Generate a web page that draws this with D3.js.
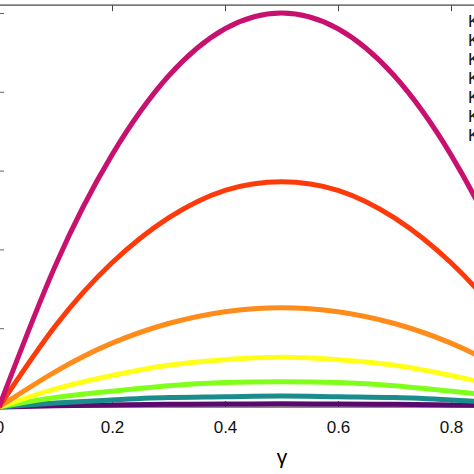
<!DOCTYPE html>
<html lang="en">
<head>
  <meta charset="UTF-8" />
  <script src="https://d3js.org/d3.v7.min.js"></script>
  <style>
    body { margin: 0; background: #fff; }
    text { font-family: "Liberation Sans", Arial, sans-serif; }
  </style>
</head>
<body>
  <svg width="474" height="474"></svg>
  <script>
    // gamma sampling points and the curve values
    const gamma = [0, 0.1, 0.2, 0.3, 0.4, 0.5, 0.6, 0.7, 0.8, 0.9, 1.0];
    const seriesNames = ["K=1", "K=2", "K=3", "K=4", "K=5", "K=6", "K=7"];
    const colors = ["#c8106e", "#ff3a0a", "#ff8c1a", "#ffff1a", "#7fff1a", "#1a8c8c", "#5a0a6e"];
    const s1 = [0, 1.80, 3.20, 4.20, 4.80, 5.00, 4.80, 4.20, 3.20, 1.80, 0];
    const s2 = [0, 1.03, 1.83, 2.40, 2.75, 2.86, 2.75, 2.40, 1.83, 1.03, 0];
    const s3 = [0, 0.45, 0.81, 1.06, 1.21, 1.26, 1.21, 1.06, 0.81, 0.45, 0];
    const s4 = [0, 0.23, 0.40, 0.53, 0.60, 0.63, 0.60, 0.53, 0.40, 0.23, 0];
    const s5 = [0, 0.12, 0.20, 0.27, 0.31, 0.32, 0.31, 0.27, 0.20, 0.12, 0];
    const s6 = [0, 0.05, 0.09, 0.12, 0.13, 0.14, 0.13, 0.12, 0.09, 0.05, 0];
    const s7 = [0, 0.015, 0.026, 0.034, 0.038, 0.04, 0.038, 0.034, 0.026, 0.015, 0];
    const series = [s1, s2, s3, s4, s5, s6, s7];
    const xTicks = [0, 0.2, 0.4, 0.6, 0.8, 1.0];
    const yTicks = [0, 1, 2, 3, 4, 5];

    const svg = d3.select("svg");
    const x = d3.scaleLinear().domain([0, 1]).range([-1, 564]);
    const y = d3.scaleLinear().domain([0, 5]).range([407, 13]);

    // frame
    svg.append("rect")
      .attr("x", x(0)).attr("y", y(5.1))
      .attr("width", x(1) - x(0)).attr("height", y(0) - y(5.1))
      .attr("fill", "none").attr("stroke", "#666").attr("stroke-width", 1.5);

    // bottom axis, ticks inward
    const xa = svg.append("g").attr("transform", `translate(0,${y(0)})`)
      .call(d3.axisBottom(x).tickValues(xTicks).tickSizeInner(-6).tickSizeOuter(0)
        .tickPadding(14).tickFormat(d => d === 0 ? "0" : d3.format(".1f")(d)));
    xa.select(".domain").remove();
    xa.selectAll("line").attr("stroke", "#444");
    xa.selectAll("text").attr("font-size", 17).attr("fill", "#111")
      .attr("font-family", "Liberation Sans, Arial, sans-serif");

    // top ticks
    svg.append("g").attr("transform", `translate(0,${y(5.1)})`)
      .call(d3.axisTop(x).tickValues(xTicks).tickSizeInner(-6).tickSizeOuter(0).tickFormat(""))
      .call(g => g.select(".domain").remove())
      .selectAll("line").attr("stroke", "#444");

    // left ticks
    svg.append("g").attr("transform", `translate(${x(0)},0)`)
      .call(d3.axisLeft(y).tickValues(yTicks).tickSizeInner(-5).tickSizeOuter(0).tickFormat(""))
      .call(g => g.select(".domain").remove())
      .selectAll("line").attr("stroke", "#666");

    svg.append("text").attr("x", 282).attr("y", 464).attr("text-anchor", "middle")
      .attr("font-size", 21).attr("font-family", "DejaVu Sans, sans-serif").text("γ");

    const line = d3.line().x((d, i) => x(gamma[i])).y(d => y(d)).curve(d3.curveNatural);
    svg.selectAll("path.curve").data(series.slice().reverse()).enter().append("path")
      .attr("class", "curve")
      .attr("d", d => line(d))
      .attr("fill", "none")
      .attr("stroke", (d, i) => colors[colors.length - 1 - i])
      .attr("stroke-width", 5);

    // legend (mostly beyond the right edge)
    svg.selectAll("text.leg").data(seriesNames).enter().append("text")
      .attr("class", "leg")
      .attr("x", 468).attr("y", (d, i) => 27 + i * 19)
      .attr("font-size", 17).attr("fill", "#111").text(d => d);
  </script>
</body>
</html>
